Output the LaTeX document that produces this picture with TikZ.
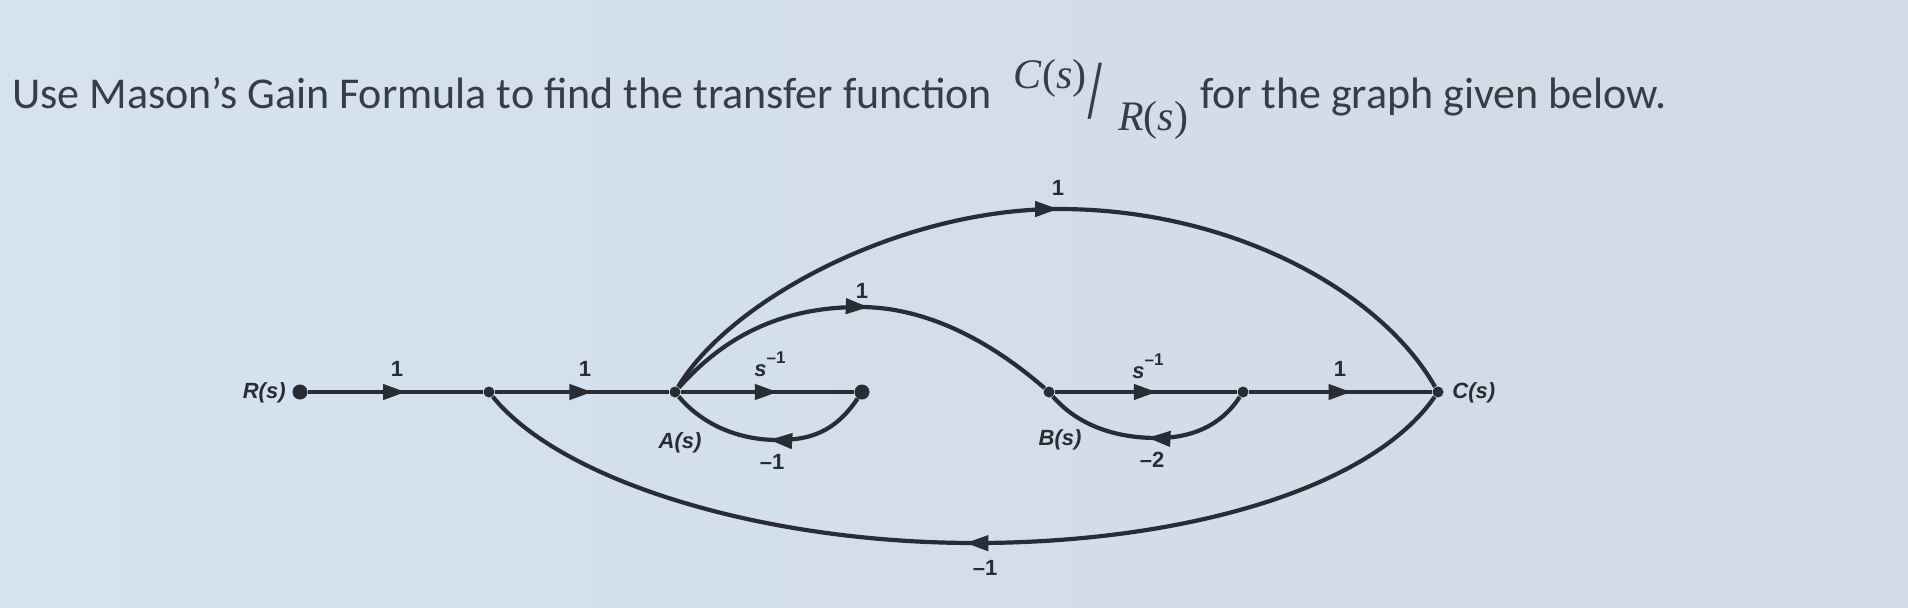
\documentclass[tikz,border=0pt]{standalone}
\usepackage{fontspec}
\setmainfont{Carlito}
\newfontfamily\labfont{Liberation Sans}
\newfontfamily\mfont{Liberation Serif}
\usetikzlibrary{arrows.meta,decorations.markings}
\definecolor{bgl}{RGB}{214,226,240}
\definecolor{bgr}{RGB}{209,218,229}
\definecolor{ink}{RGB}{40,44,52}
\definecolor{txt}{RGB}{55,60,70}
\begin{document}
\begin{tikzpicture}[x=0.5pt,y=-0.5pt,
  sig/.style={draw=ink,line width=2.1pt},
  midarrow/.style={postaction={decorate,decoration={markings,mark=at position #1 with {\arrow{Triangle[length=11.5pt,width=7.5pt]}}}}},
  junc/.style={circle,fill=ink,inner sep=0pt,minimum size=5.5pt},
  bigjunc/.style={circle,fill=ink,inner sep=0pt,minimum size=7.5pt},
  lab/.style={font=\labfont\bfseries\itshape\fontsize{11}{13}\selectfont,text=ink,inner sep=0pt},
  gain/.style={font=\labfont\bfseries\fontsize{11}{13}\selectfont,text=ink,inner sep=0pt},
  title/.style={font=\fontsize{22}{26}\selectfont,text=txt,inner sep=0pt},
  mth/.style={font=\mfont\fontsize{21}{24}\selectfont,text=txt,inner sep=0pt},
]
\useasboundingbox (0,0) rectangle (1908,607);
\shade[left color=bgl,right color=bgr] (0,0) rectangle (1908,607);

% title
\node[title,anchor=base west] (t1) at (12,108) {Use Mason’s Gain Formula to find the transfer function};
\node[mth] (cs) at (1050,78) {\textit{C}(\textit{s})};
\node[mth] (sl) at (1095,91) {\scalebox{1.15}[2.0]{\bfseries /}};
\node[mth] (rs) at (1153,120) {\textit{R}(\textit{s})};
\node[title,anchor=base west] (t2) at (1200,108) {for the graph given below.};

% nodes
\node[bigjunc] (R) at (300,392) {};
\node[junc] (N1) at (489,392) {};
\node[junc] (A) at (675,392) {};
\node[bigjunc] (Ap) at (862,392) {};
\node[junc] (B) at (1049,392) {};
\node[junc] (Bp) at (1243,392) {};
\node[junc] (C) at (1438,392) {};

% branches
\draw[sig,midarrow=0.56] (R) -- (N1);
\draw[sig,midarrow=0.56] (N1) -- (A);
\draw[sig,midarrow=0.56] (A) -- (Ap);
\draw[sig,midarrow=0.56] (B) -- (Bp);
\draw[sig,midarrow=0.56] (Bp) -- (C);
\draw[sig,midarrow=0.52] (A) .. controls (730,330) and (790,307) .. (860,307) .. controls (930,307) and (995,345) .. (B);
\draw[sig,midarrow=0.5] (A) .. controls (730,300) and (900,209) .. (1059,209) .. controls (1230,209) and (1380,290) .. (C);
\draw[sig,midarrow=0.5] (C) .. controls (1370,490) and (1180,543) .. (975,543) .. controls (760,543) and (560,480) .. (N1);
\draw[sig,midarrow=0.5] (Ap) .. controls (835,432) and (810,440) .. (778,440) .. controls (735,440) and (700,422) .. (A);
\draw[sig,midarrow=0.5] (Bp) .. controls (1220,427) and (1190,438) .. (1157,438) .. controls (1110,438) and (1075,422) .. (B);

% labels
\node[lab,anchor=east] (lR) at (286,393) {R(s)};
\node[lab,anchor=west] (lC) at (1452,393) {C(s)};
\node[lab] (lA) at (680,443) {A(s)};
\node[lab] (lB) at (1060,440) {B(s)};
\node[gain] (g1) at (397,369) {1};
\node[gain] (g2) at (585,369) {1};
\node[gain] (g3) at (770,364) {\textit{s}\raisebox{1.1ex}{\fontsize{8.5}{9}\selectfont –1}};
\node[gain] (g4) at (1148,366) {\textit{s}\raisebox{1.1ex}{\fontsize{8.5}{9}\selectfont –1}};
\node[gain] (g5) at (1340,369) {1};
\node[gain] (g6) at (862,291) {1};
\node[gain] (g7) at (1058,188) {1};
\node[gain] (g8) at (772,462) {–1};
\node[gain] (g9) at (1152,460) {–2};
\node[gain] (g10) at (985,568) {–1};
\end{tikzpicture}
\end{document}
